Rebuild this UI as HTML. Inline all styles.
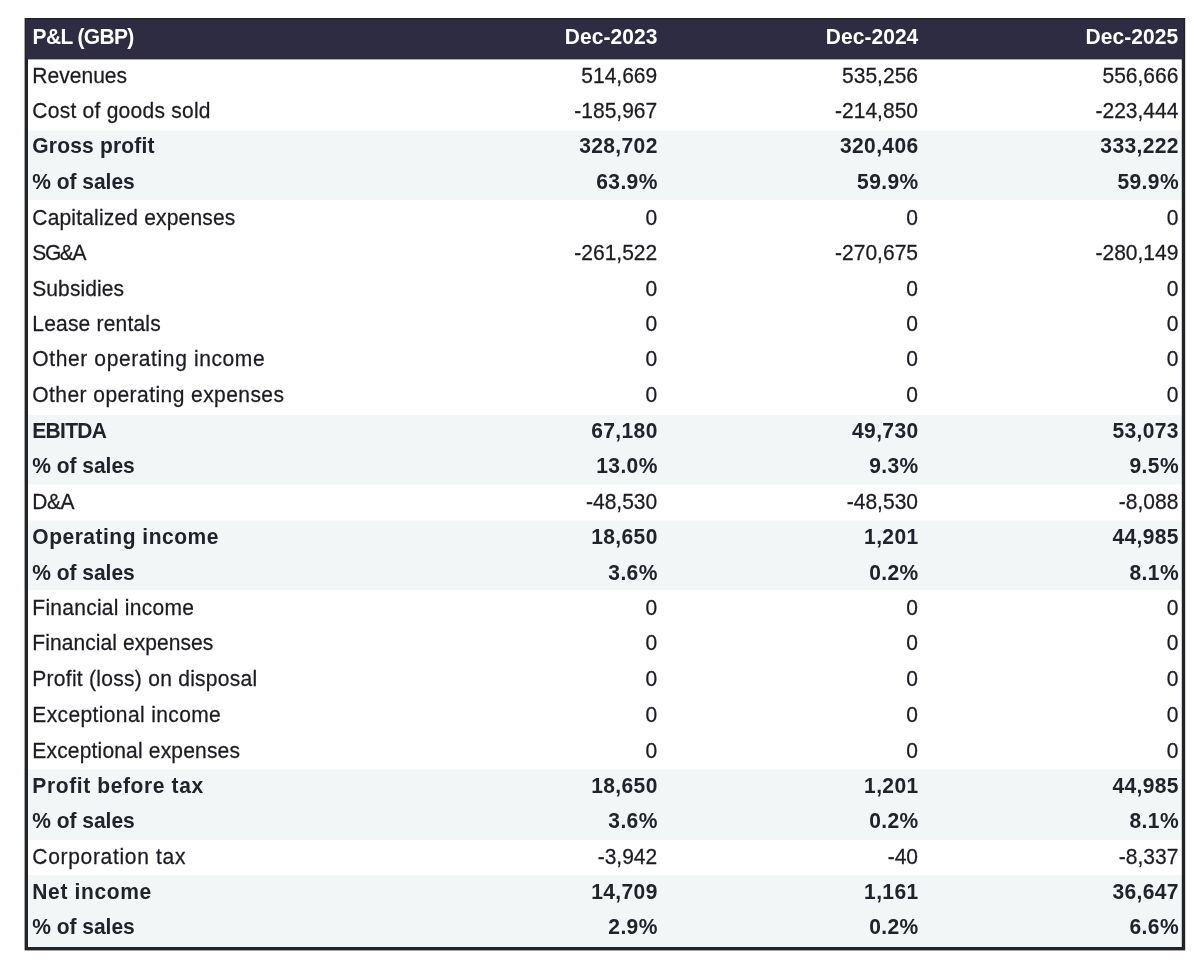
<!DOCTYPE html>
<html lang="en">
<head>
<meta charset="utf-8">
<title>P&amp;L (GBP)</title>
<style>
html,body{margin:0;padding:0;background:#fff;}
body{width:1200px;height:962px;position:relative;overflow:hidden;font-family:"Liberation Sans",sans-serif;color:#1b1b23;font-size:21px;}
.bg{position:absolute;left:0;top:0;display:block;}
.tbl{position:absolute;left:0;top:0;width:1200px;height:962px;}
.hd{position:absolute;left:0;width:1200px;color:#fff;font-weight:bold;margin-top:0.4px;transform:scaleY(1.075);transform-origin:0 26px;}
.r{position:absolute;left:0;width:1200px;height:31.5px;line-height:31.5px;transform:scaleY(1.075);transform-origin:0 23px;}
.r span{-webkit-text-stroke:0.25px #1b1b23;}
.r.b{font-weight:bold;color:#20222c;}
.r.b span{-webkit-text-stroke:0;}
span{position:absolute;top:0;white-space:nowrap;}

</style>
</head>
<body>
<svg class="bg" width="1200" height="962" viewBox="0 0 1200 962">
<rect x="24.6" y="18.0" width="1160.60" height="932.40" fill="#ffffff"/>
<rect x="25.6" y="130.40" width="1158.60" height="69.50" fill="#f2f6f7"/>
<rect x="25.6" y="414.80" width="1158.60" height="69.60" fill="#f2f6f7"/>
<rect x="25.6" y="520.40" width="1158.60" height="69.50" fill="#f2f6f7"/>
<rect x="25.6" y="769.30" width="1158.60" height="70.50" fill="#f2f6f7"/>
<rect x="25.6" y="875.00" width="1158.60" height="74.40" fill="#f2f6f7"/>
<rect x="26.30" y="19.70" width="1157.20" height="929.00" fill="none" stroke="#232329" stroke-width="3.4"/>
<rect x="26.10" y="19.50" width="1157.60" height="39.90" fill="#2e2c42"/>
</svg>
<div class="tbl">
<div class="hd" style="top:18.0px;height:38.6px;line-height:38.6px">
<span class="c0" style="left:32.6px;letter-spacing:-0.656px;">P&amp;L (GBP)</span>
<span class="c1" style="right:542.55px;letter-spacing:0.050px;">Dec-2023</span>
<span class="c2" style="right:281.65px;letter-spacing:0.050px;">Dec-2024</span>
<span class="c3" style="right:21.85px;letter-spacing:0.050px;">Dec-2025</span>
</div>
<div class="r" style="top:59.6px">
<span class="c0" style="left:32.3px;letter-spacing:0.027px;">Revenues</span>
<span class="c1" style="right:542.80px;">514,669</span>
<span class="c2" style="right:282.00px;">535,256</span>
<span class="c3" style="right:21.60px;">556,666</span>
</div>
<div class="r" style="top:94.8px">
<span class="c0" style="left:32.3px;letter-spacing:0.250px;">Cost of goods sold</span>
<span class="c1" style="right:542.80px;">-185,967</span>
<span class="c2" style="right:282.00px;">-214,850</span>
<span class="c3" style="right:21.60px;">-223,444</span>
</div>
<div class="r b" style="top:130.2px">
<span class="c0" style="left:32.3px;letter-spacing:0.179px;">Gross profit</span>
<span class="c1" style="right:542.27px;letter-spacing:0.380px;">328,702</span>
<span class="c2" style="right:281.47px;letter-spacing:0.380px;">320,406</span>
<span class="c3" style="right:21.07px;letter-spacing:0.380px;">333,222</span>
</div>
<div class="r b" style="top:166.0px">
<span class="c0" style="left:32.3px;letter-spacing:-0.032px;">% of sales</span>
<span class="c1" style="right:542.27px;letter-spacing:0.380px;">63.9%</span>
<span class="c2" style="right:281.47px;letter-spacing:0.380px;">59.9%</span>
<span class="c3" style="right:21.07px;letter-spacing:0.380px;">59.9%</span>
</div>
<div class="r" style="top:202.0px">
<span class="c0" style="left:32.3px;letter-spacing:0.181px;">Capitalized expenses</span>
<span class="c1" style="right:542.80px;">0</span>
<span class="c2" style="right:282.00px;">0</span>
<span class="c3" style="right:21.60px;">0</span>
</div>
<div class="r" style="top:237.3px">
<span class="c0" style="left:32.3px;letter-spacing:-1.400px;">SG&amp;A</span>
<span class="c1" style="right:542.80px;">-261,522</span>
<span class="c2" style="right:282.00px;">-270,675</span>
<span class="c3" style="right:21.60px;">-280,149</span>
</div>
<div class="r" style="top:272.8px">
<span class="c0" style="left:32.3px;letter-spacing:0.071px;">Subsidies</span>
<span class="c1" style="right:542.80px;">0</span>
<span class="c2" style="right:282.00px;">0</span>
<span class="c3" style="right:21.60px;">0</span>
</div>
<div class="r" style="top:307.9px">
<span class="c0" style="left:32.3px;letter-spacing:0.193px;">Lease rentals</span>
<span class="c1" style="right:542.80px;">0</span>
<span class="c2" style="right:282.00px;">0</span>
<span class="c3" style="right:21.60px;">0</span>
</div>
<div class="r" style="top:343.1px">
<span class="c0" style="left:32.3px;letter-spacing:0.614px;">Other operating income</span>
<span class="c1" style="right:542.80px;">0</span>
<span class="c2" style="right:282.00px;">0</span>
<span class="c3" style="right:21.60px;">0</span>
</div>
<div class="r" style="top:379.0px">
<span class="c0" style="left:32.3px;letter-spacing:0.435px;">Other operating expenses</span>
<span class="c1" style="right:542.80px;">0</span>
<span class="c2" style="right:282.00px;">0</span>
<span class="c3" style="right:21.60px;">0</span>
</div>
<div class="r b" style="top:415.0px">
<span class="c0" style="left:32.3px;letter-spacing:-0.693px;">EBITDA</span>
<span class="c1" style="right:542.27px;letter-spacing:0.380px;">67,180</span>
<span class="c2" style="right:281.47px;letter-spacing:0.380px;">49,730</span>
<span class="c3" style="right:21.07px;letter-spacing:0.380px;">53,073</span>
</div>
<div class="r b" style="top:450.0px">
<span class="c0" style="left:32.3px;letter-spacing:-0.032px;">% of sales</span>
<span class="c1" style="right:542.27px;letter-spacing:0.380px;">13.0%</span>
<span class="c2" style="right:281.47px;letter-spacing:0.380px;">9.3%</span>
<span class="c3" style="right:21.07px;letter-spacing:0.380px;">9.5%</span>
</div>
<div class="r" style="top:485.5px">
<span class="c0" style="left:32.3px;letter-spacing:-0.475px;">D&amp;A</span>
<span class="c1" style="right:542.80px;">-48,530</span>
<span class="c2" style="right:282.00px;">-48,530</span>
<span class="c3" style="right:21.60px;">-8,088</span>
</div>
<div class="r b" style="top:521.2px">
<span class="c0" style="left:32.3px;letter-spacing:0.504px;">Operating income</span>
<span class="c1" style="right:542.27px;letter-spacing:0.380px;">18,650</span>
<span class="c2" style="right:281.47px;letter-spacing:0.380px;">1,201</span>
<span class="c3" style="right:21.07px;letter-spacing:0.380px;">44,985</span>
</div>
<div class="r b" style="top:556.8px">
<span class="c0" style="left:32.3px;letter-spacing:-0.032px;">% of sales</span>
<span class="c1" style="right:542.27px;letter-spacing:0.380px;">3.6%</span>
<span class="c2" style="right:281.47px;letter-spacing:0.380px;">0.2%</span>
<span class="c3" style="right:21.07px;letter-spacing:0.380px;">8.1%</span>
</div>
<div class="r" style="top:592.2px">
<span class="c0" style="left:32.3px;letter-spacing:0.266px;">Financial income</span>
<span class="c1" style="right:542.80px;">0</span>
<span class="c2" style="right:282.00px;">0</span>
<span class="c3" style="right:21.60px;">0</span>
</div>
<div class="r" style="top:626.95px">
<span class="c0" style="left:32.3px;letter-spacing:0.073px;">Financial expenses</span>
<span class="c1" style="right:542.80px;">0</span>
<span class="c2" style="right:282.00px;">0</span>
<span class="c3" style="right:21.60px;">0</span>
</div>
<div class="r" style="top:662.9px">
<span class="c0" style="left:32.3px;letter-spacing:0.276px;">Profit (loss) on disposal</span>
<span class="c1" style="right:542.80px;">0</span>
<span class="c2" style="right:282.00px;">0</span>
<span class="c3" style="right:21.60px;">0</span>
</div>
<div class="r" style="top:699.4px">
<span class="c0" style="left:32.3px;letter-spacing:0.373px;">Exceptional income</span>
<span class="c1" style="right:542.80px;">0</span>
<span class="c2" style="right:282.00px;">0</span>
<span class="c3" style="right:21.60px;">0</span>
</div>
<div class="r" style="top:734.6px">
<span class="c0" style="left:32.3px;letter-spacing:0.178px;">Exceptional expenses</span>
<span class="c1" style="right:542.80px;">0</span>
<span class="c2" style="right:282.00px;">0</span>
<span class="c3" style="right:21.60px;">0</span>
</div>
<div class="r b" style="top:770.0px">
<span class="c0" style="left:32.3px;letter-spacing:0.611px;">Profit before tax</span>
<span class="c1" style="right:542.27px;letter-spacing:0.380px;">18,650</span>
<span class="c2" style="right:281.47px;letter-spacing:0.380px;">1,201</span>
<span class="c3" style="right:21.07px;letter-spacing:0.380px;">44,985</span>
</div>
<div class="r b" style="top:805.1px">
<span class="c0" style="left:32.3px;letter-spacing:-0.032px;">% of sales</span>
<span class="c1" style="right:542.27px;letter-spacing:0.380px;">3.6%</span>
<span class="c2" style="right:281.47px;letter-spacing:0.380px;">0.2%</span>
<span class="c3" style="right:21.07px;letter-spacing:0.380px;">8.1%</span>
</div>
<div class="r" style="top:840.7px">
<span class="c0" style="left:32.3px;letter-spacing:0.683px;">Corporation tax</span>
<span class="c1" style="right:542.80px;">-3,942</span>
<span class="c2" style="right:282.00px;">-40</span>
<span class="c3" style="right:21.60px;">-8,337</span>
</div>
<div class="r b" style="top:876.2px">
<span class="c0" style="left:32.3px;letter-spacing:0.646px;">Net income</span>
<span class="c1" style="right:542.27px;letter-spacing:0.380px;">14,709</span>
<span class="c2" style="right:281.47px;letter-spacing:0.380px;">1,161</span>
<span class="c3" style="right:21.07px;letter-spacing:0.380px;">36,647</span>
</div>
<div class="r b" style="top:911.2px">
<span class="c0" style="left:32.3px;letter-spacing:-0.032px;">% of sales</span>
<span class="c1" style="right:542.27px;letter-spacing:0.380px;">2.9%</span>
<span class="c2" style="right:281.47px;letter-spacing:0.380px;">0.2%</span>
<span class="c3" style="right:21.07px;letter-spacing:0.380px;">6.6%</span>
</div>
</div>
</body>
</html>
